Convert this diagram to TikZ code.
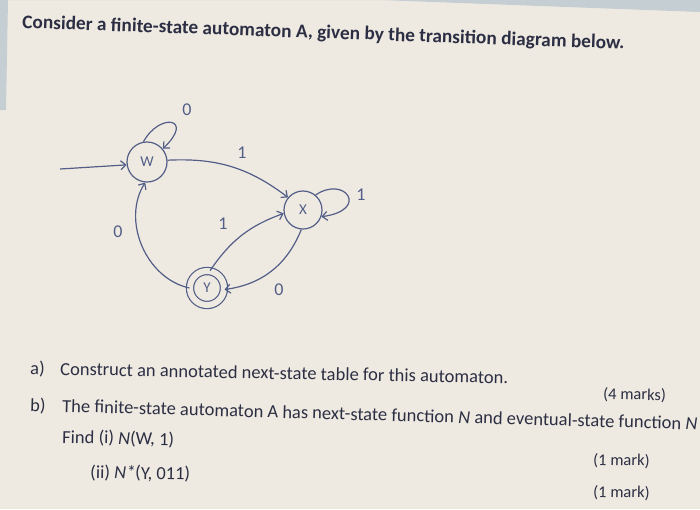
\documentclass[tikz,border=0pt]{standalone}
\usepackage{fontspec}
\setmainfont{Carlito}
\usetikzlibrary{arrows.meta}

\definecolor{paper}{HTML}{EFEAE1}
\definecolor{rim}{HTML}{C5CFD3}
\definecolor{ink}{HTML}{2C2F44}
\definecolor{pen}{HTML}{535E88}

\begin{document}
\begin{tikzpicture}[x=1pt,y=-1pt, >={Straight Barb[length=5pt,width=9pt]},
    state/.style={circle, draw=pen, line width=1.2pt, text=pen, inner sep=0pt,
      minimum size=38pt, font=\fontsize{15}{15}\selectfont},
    accept/.style={state, double=paper, double distance=6pt, minimum size=34pt},
    edge/.style={draw=pen, line width=1.2pt, ->},
    lab/.style={text=pen, inner sep=0pt, font=\fontsize{18}{18}\selectfont},
    txt/.style={text=ink, anchor=base west, inner sep=0pt,
      font=\fontsize{18.5}{22}\selectfont},
    marks/.style={txt, font=\fontsize{16.5}{20}\selectfont}]
  % page
  \fill[paper] (0,0) rectangle (700,509);
  \fill[rim] (0,0) -- (700,0) -- (700,12) -- (380,0) -- cycle;
  \fill[rim] (0,0) -- (8,0) -- (6,110) -- (0,110) -- cycle;
  \useasboundingbox (0,0) rectangle (700,509);

  % states
  \node[state, minimum size=40pt] (w) at (147,162) {W};
  \node[state] (x) at (303,210) {X};
  \node[accept] (y) at (207,288) {Y};
  \coordinate (start) at (60,169);

  % transitions
  \draw[edge] (start) -- (w.188);
  \draw[edge] (w.100) .. controls (160,112) and (195,118) .. (w.40);
  \node[lab] (l0w) at (187,110) {0};
  \draw[edge] (w.5) to[bend left=20] (x.140);
  \node[lab] (l1wx) at (242,153) {1};
  \draw[edge] (x.50) .. controls (345,175) and (370,210) .. (x.-20);
  \node[lab] (l1x) at (361,195) {1};
  \draw[edge] (y.80) to[bend left=18] (x.190);
  \node[lab] (l1yx) at (223,224) {1};
  \draw[edge] (x.-95) to[bend left=30] (y.-5);
  \node[lab] (l0xy) at (279,290) {0};
  \draw[edge] (y.180) to[bend left=55] (w.-95);
  \node[lab] (l0yw) at (118,232) {0};

  % question text
  \node[txt, rotate=-2.0, font=\fontsize{19.3}{22}\selectfont\bfseries] (title) at (22,28)
    {Consider a finite-state automaton A, given by the transition diagram below.};
  \node[txt, rotate=-1.1] (pa) at (30,374) {a)};
  \node[txt, rotate=-1.1] (qa) at (60,375) {Construct an annotated next-state table for this automaton.};
  \node[marks, rotate=-1.3] (ma) at (603,399) {(4 marks)};
  \node[txt, rotate=-1.6] (pb) at (30,411) {b)};
  \node[txt, rotate=-1.6] (qb) at (62,412) {The finite-state automaton A has next-state function \textit{N} and eventual-state function \textit{N*}};
  \node[txt, rotate=-1.2] (fi) at (62,443) {Find (i) \textit{N}(W, 1)};
  \node[txt, rotate=-1.2] (fii) at (90,478) {(ii) \textit{N*}(Y, 011)};
  \node[marks, rotate=-1.2] (m1) at (593,465) {(1 mark)};
  \node[marks, rotate=-1.2] (m2) at (593,497) {(1 mark)};
\end{tikzpicture}
\end{document}
